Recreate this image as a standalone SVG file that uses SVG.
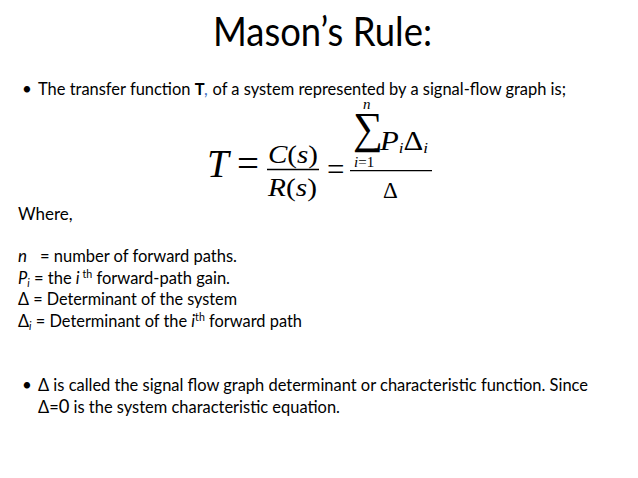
<svg xmlns="http://www.w3.org/2000/svg" width="638" height="478" viewBox="0 0 638 478">
<style>
.t{font-family:Lato,"Open Sans","Liberation Sans",sans-serif;fill:#000;}
.m{font-family:"Liberation Serif","DejaVu Serif",serif;fill:#000;}
.i{font-style:italic;}
</style>
<rect width="638" height="478" fill="#fff"/>
<g id="title">
<text class="t" x="322.5" y="46" font-size="40" text-anchor="middle" textLength="219" lengthAdjust="spacingAndGlyphs">Mason’s Rule:</text>
</g>
<g id="intro">
<text class="t" x="22" y="95" font-size="17">•</text>
<text class="t" x="38" y="95" font-size="17" textLength="528" lengthAdjust="spacingAndGlyphs">The transfer function <tspan font-weight="bold">T</tspan><tspan fill="#4472C4" font-style="italic">,</tspan> of a system represented by a signal-flow graph is;</text>
</g>
<g id="formula">
<text class="m i" x="207" y="177" font-size="39">T</text>
<text class="m" x="237" y="177" font-size="39">=</text>
<text class="m" x="268" y="163" font-size="26" textLength="50" lengthAdjust="spacingAndGlyphs"><tspan class="i">C</tspan>(<tspan class="i">s</tspan>)</text>
<line x1="267" y1="169.5" x2="319" y2="169.5" stroke="#000" stroke-width="1.3"/>
<text class="m" x="268" y="196" font-size="26" textLength="49" lengthAdjust="spacingAndGlyphs"><tspan class="i">R</tspan>(<tspan class="i">s</tspan>)</text>
<text class="m" x="327" y="180" font-size="31">=</text>
<text class="m i" x="363" y="109" font-size="15">n</text>
<text class="m" transform="translate(353,143) scale(1.05,1.1)" x="0" y="0" font-size="40">∑</text>
<text class="m" x="354" y="167" font-size="15"><tspan class="i">i</tspan>=1</text>
<text class="m" x="380" y="150" font-size="27" textLength="48" lengthAdjust="spacingAndGlyphs"><tspan class="i">P</tspan><tspan class="i" font-size="15" dy="3">i</tspan><tspan dy="-3">Δ</tspan><tspan class="i" font-size="15" dy="3">i</tspan></text>
<line x1="350" y1="170.7" x2="432" y2="170.7" stroke="#000" stroke-width="1.3"/>
<text class="m" x="383" y="198" font-size="23">Δ</text>
</g>
<g id="definitions">
<text class="t" x="18" y="220" font-size="17">Where,</text>
<text class="t i" x="18" y="262" font-size="17">n</text>
<text class="t" x="40" y="262" font-size="17" textLength="197" lengthAdjust="spacingAndGlyphs">= number of forward paths.</text>
<text class="t" x="18" y="284" font-size="17" textLength="212" lengthAdjust="spacingAndGlyphs"><tspan font-style="italic">P</tspan><tspan font-style="italic" font-size="11" dy="3">i</tspan><tspan dy="-3"> = the </tspan><tspan font-style="italic">i</tspan><tspan font-size="11" dy="-6"> th</tspan><tspan dy="6"> forward-path gain.</tspan></text>
<text class="t" x="18" y="305" font-size="17" textLength="219" lengthAdjust="spacingAndGlyphs">Δ = Determinant of the system</text>
<text class="t" x="18" y="327" font-size="17" textLength="284" lengthAdjust="spacingAndGlyphs">Δ<tspan font-style="italic" font-size="11" dy="3">i</tspan><tspan dy="-3"> = Determinant of the </tspan><tspan font-style="italic">i</tspan><tspan font-size="11" dy="-6">th</tspan><tspan dy="6"> forward path</tspan></text>
</g>
<g id="note">
<text class="t" x="22" y="391" font-size="17">•</text>
<text class="t" x="38" y="391" font-size="17" textLength="550" lengthAdjust="spacingAndGlyphs">Δ is called the signal flow graph determinant or characteristic function. Since</text>
<text class="t" x="38" y="413" font-size="17" textLength="302" lengthAdjust="spacingAndGlyphs">Δ=<tspan font-size="19">0</tspan> is the system characteristic equation.</text>
</g>
</svg>
